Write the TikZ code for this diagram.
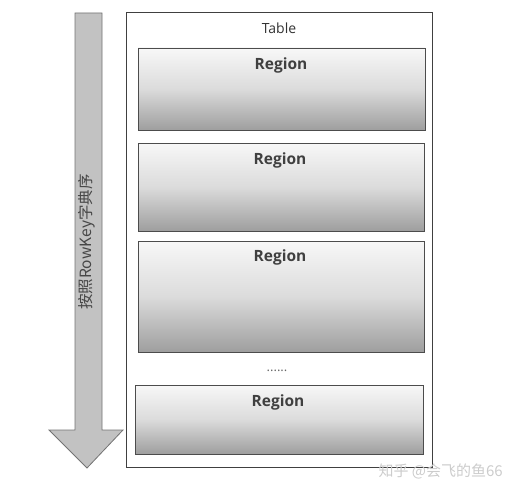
\documentclass[tikz,border=0pt]{standalone}
\usepackage{fontspec}
\setmainfont{Open Sans}
\newfontfamily\cjk{Noto Sans CJK SC}
\begin{document}
\begin{tikzpicture}[x=1pt,y=-1pt,
  regionbox/.style={draw=black!70, line width=0.9pt, top color=black!3, bottom color=black!38, middle color=black!14, shading angle=0},
  regionlabel/.style={font=\fontsize{15.5}{17}\selectfont\bfseries, text=black!75},
]
\useasboundingbox (0,0) rectangle (516,492);
% arrow
\path[draw=black!55, fill=black!24, line width=0.8pt]
  (75,13) -- (102,13) -- (102,430) -- (123,430) -- (87,468) -- (49,430) -- (75,430) -- cycle;
\node[rotate=90, font=\cjk\fontsize{15.5}{17}\selectfont, text=black!72] (order) at (87,242) {按照RowKey字典序};
% table
\node[draw=black!75, line width=0.9pt, minimum width=306pt, minimum height=455pt, inner sep=0pt] (table) at (279.5,240) {};
\node[font=\fontsize{14}{16}\selectfont, text=black!80] (tlabel) at (279,28) {Table};
\path[regionbox] (138,48) rectangle (425,130);
\node[regionlabel] (r1) at (281,65) {Region};
\path[regionbox] (138,143) rectangle (424,231);
\node[regionlabel] (r2) at (280,160) {Region};
\path[regionbox] (138,241) rectangle (424,352);
\node[regionlabel] (r3) at (280,257) {Region};
\node[font=\fontsize{13}{15}\selectfont, text=black!60] (dots) at (277,371) {......};
\path[regionbox] (135,385) rectangle (423,454);
\node[regionlabel] (r4) at (278,402) {Region};
% watermark
\node[font=\cjk\fontsize{15}{17}\selectfont, text=black!20, anchor=west] (wm) at (375,471) {知乎 @会飞的鱼66};
\end{tikzpicture}
\end{document}
